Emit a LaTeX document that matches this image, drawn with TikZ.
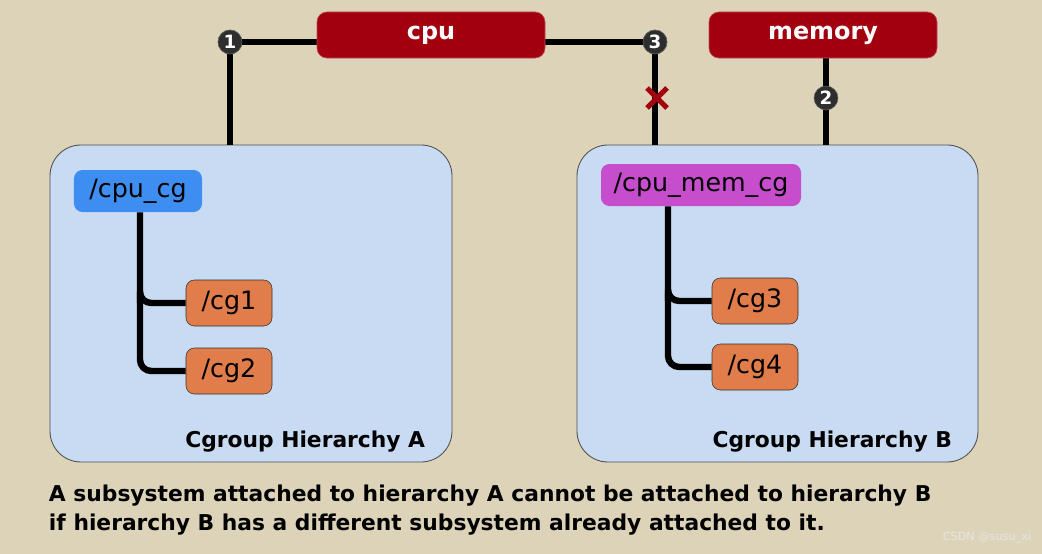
\documentclass[tikz,border=0pt]{standalone}
\usepackage{fontspec}
\setmainfont{DejaVu Sans}
\definecolor{bgbeige}{HTML}{DDD3B8}
\definecolor{sysred}{HTML}{A3000F}
\definecolor{hierblue}{HTML}{C8DBF2}
\definecolor{cgblue}{HTML}{3D8EF0}
\definecolor{cgmag}{HTML}{C64DCB}
\definecolor{cgorange}{HTML}{E07D4A}
\definecolor{numgray}{HTML}{2E2E2E}
\tikzset{
  subsys/.style={draw=sysred!70!white, fill=sysred, rounded corners=7pt, minimum width=57mm,
    minimum height=11.5mm, text=white, font=\bfseries\fontsize{17}{19}\selectfont},
  hier/.style={draw=black!70, fill=hierblue, rounded corners=22pt, line width=0.6pt},
  root/.style={rounded corners=6pt, minimum height=10.5mm, inner xsep=4pt, font=\fontsize{18}{20}\selectfont},
  leaf/.style={draw=black!80, fill=cgorange, rounded corners=6pt, minimum width=21.5mm,
    minimum height=11.5mm, font=\fontsize{18}{20}\selectfont},
  num/.style={circle, fill=numgray, draw=black!60, inner sep=0pt, minimum size=6mm, text=white,
    font=\bfseries\fontsize{13}{14}\selectfont},
  link/.style={line width=1.6mm},
  tree/.style={line width=1.6mm, rounded corners=8pt}
}
\begin{document}
\begin{tikzpicture}[x=0.25mm, y=-0.25mm]
  \fill[bgbeige] (0,0) rectangle (1042,554);

  % hierarchies
  \draw[hier] (50,145) rectangle (452,462);
  \draw[hier] (577,145) rectangle (978,462);
  \node[anchor=south east, font=\bfseries\fontsize{15.5}{17}\selectfont] (labA) at (430,457) {Cgroup Hierarchy A};
  \node[anchor=south east, font=\bfseries\fontsize{15.5}{17}\selectfont] (labB) at (957,457) {Cgroup Hierarchy B};

  % subsystems
  \node[num] (n1) at (230,42) {1};
  \node[num] (n3) at (655,42) {3};
  \coordinate (topA) at (230,145);
  \coordinate (topB) at (655,145);
  \coordinate (topM) at (826,145);
  \draw[link] (n1.center) -- (n3.center);
  \draw[link] (n1.center) -- (topA);
  \draw[link] (n3.center) -- (topB);
  \draw[link] (826,35) -- (topM);
  \node[subsys] (cpu) at (431,35) {cpu};
  \node[subsys] (mem) at (823,35) {memory};
  \node[num] at (n1) {1};
  \node[num] at (n3) {3};
  \node[num] (n2) at (826,98) {2};
  \node (cross) at (657,98) {};
  \draw[sysred, line width=1.3mm] ([shift={(-10,-10)}]cross.center) -- ([shift={(10,10)}]cross.center)
    ([shift={(-10,10)}]cross.center) -- ([shift={(10,-10)}]cross.center);

  % hierarchy A
  \node[root, fill=cgblue, minimum width=32mm] (rootA) at (138,191) {/cpu\_cg};
  \node[leaf] (cg1) at (229,303) {/cg1};
  \node[leaf] (cg2) at (229,371) {/cg2};
  \draw[tree] (rootA.south -| 140,0) -- (140,371) -- (cg2.west);
  \draw[tree] (140,303) |- (cg1.west);

  % hierarchy B
  \node[root, fill=cgmag, minimum width=50mm] (rootB) at (701,185) {/cpu\_mem\_cg};
  \node[leaf] (cg3) at (755,301) {/cg3};
  \node[leaf] (cg4) at (755,367) {/cg4};
  \draw[tree] (rootB.south -| 668,0) -- (668,367) -- (cg4.west);
  \draw[tree] (668,301) |- (cg3.west);

  % caption
  \node[anchor=west, align=left, font=\bfseries\fontsize{15.5}{21}\selectfont] (cap) at (44,510)
    {A subsystem attached to hierarchy A cannot be attached to hierarchy B\\
     if hierarchy B has a different subsystem already attached to it.};
  \node[anchor=south east, text=white!80!gray, font=\fontsize{8}{9}\selectfont] (mark) at (1036,548) {CSDN @susu\_xi};
\end{tikzpicture}
\end{document}
